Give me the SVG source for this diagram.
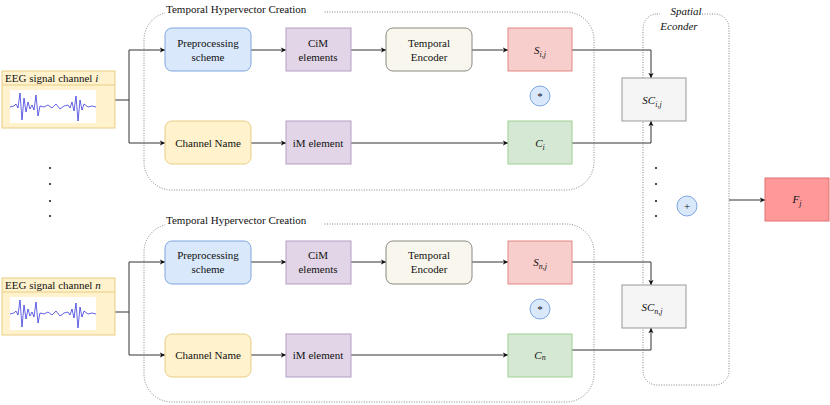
<svg xmlns="http://www.w3.org/2000/svg" width="830" height="405" viewBox="0 0 830 405">
<style>
text{font-family:"Liberation Serif",serif;font-size:11px;fill:#111;text-anchor:middle}
.lab{text-anchor:start}
.it{font-style:italic}
.pnl{fill:none;stroke:#666;stroke-dasharray:1 1.5;stroke-width:0.8}
.pre{fill:#dae8fc;stroke:#7ea6e0}
.cim{fill:#e1d5e7;stroke:#b49fc4}
.enc{fill:#f9f7ed;stroke:#8a8a80}
.s{fill:#f8cecc;stroke:#e08885}
.c{fill:#d5e8d4;stroke:#9fcf94}
.nm{fill:#fff2cc;stroke:#e8cd84}
.sc{fill:#f5f5f5;stroke:#999}
.op{fill:#dae8fc;stroke:#7ea6e0}
.ln{fill:none;stroke:#333;stroke-width:1;marker-end:url(#a)}
.wv{fill:none;stroke:#2323d8;stroke-width:0.7}
</style>
<defs>
<marker id="a" viewBox="0 0 8 8" refX="7" refY="4" markerWidth="6" markerHeight="6" orient="auto"><path d="M0,0.5L7,4L0,7.5L2,4z" fill="#111"/></marker>
<g id="wave"><rect width="86" height="33" fill="#fff"/><path class="wv" d="M0,17 L4,16 6,14 8,18 10,3 12,30 14,8 16,22 18,12 20,19 22,15 24,20 26,5 28,26 30,16 34,17 38,15 42,18 46,14 50,19 54,16 58,15 60,18 62,12 64,21 66,6 68,31 70,10 72,20 74,14 78,17 82,16 86,17"/></g>
</defs>
<g id="connectors">
<path class="ln" d="M115,100H129V50H165"/><path class="ln" d="M129,100V143H165"/>
<path class="ln" d="M251,50H286"/><path class="ln" d="M351,50H386"/><path class="ln" d="M472,50H508"/>
<path class="ln" d="M251,143H286"/><path class="ln" d="M351,143H508"/>
<path class="ln" d="M572,50H651V78"/><path class="ln" d="M572,143H651V121"/>
<path class="ln" d="M115,312H129V262H165"/><path class="ln" d="M129,312V355H165"/>
<path class="ln" d="M251,262H286"/><path class="ln" d="M351,262H386"/><path class="ln" d="M472,262H508"/>
<path class="ln" d="M251,355H286"/><path class="ln" d="M351,355H508"/>
<path class="ln" d="M572,262H651V285"/><path class="ln" d="M572,350H651V328"/>
<path class="ln" d="M729,200H765"/>
</g>
<g id="panel1"><rect class="pnl" x="144" y="12" width="450" height="178" rx="28"/><rect x="165" y="4" width="158" height="14" fill="#fff"/><text class="lab" x="166" y="13">Temporal Hypervector Creation</text></g>
<g id="panel2"><rect class="pnl" x="144" y="224" width="450" height="178" rx="28"/><rect x="165" y="214" width="158" height="14" fill="#fff"/><text class="lab" x="166" y="224">Temporal Hypervector Creation</text></g>
<g id="spatial"><rect class="pnl" x="643" y="14" width="86" height="371" rx="14"/><rect x="660" y="6" width="40" height="14" fill="#fff"/><text class="it" x="686" y="15">Spatial</text><text class="it" x="679" y="30">Econder</text></g>
<g id="eeg1"><rect class="nm" x="2" y="71" width="113" height="57"/><line x1="2" y1="85" x2="115" y2="85" stroke="#e8cd84"/><text class="lab" x="5" y="82">EEG signal channel <tspan class="it">i</tspan></text><use href="#wave" x="10" y="90"/></g>
<g id="pre1"><rect class="pre" x="165" y="28" width="86" height="43" rx="7"/><text x="208" y="47">Preprocessing</text><text x="208" y="61">scheme</text></g>
<g id="cim1"><rect class="cim" x="286" y="28" width="65" height="43"/><text x="318" y="47">CiM</text><text x="318" y="61">elements</text></g>
<g id="enc1"><rect class="enc" x="386" y="28" width="86" height="43" rx="7"/><text x="429" y="47">Temporal</text><text x="429" y="61">Encoder</text></g>
<g id="s1"><rect class="s" x="508" y="28" width="64" height="43"/><text class="it" x="540" y="54">S<tspan font-size="8" dy="3">i,j</tspan></text></g>
<g id="m1"><circle class="op" cx="540" cy="96" r="10"/><text x="540" y="100">*</text></g>
<g id="nm1"><rect class="nm" x="165" y="121" width="86" height="43" rx="7"/><text x="208" y="147">Channel Name</text></g>
<g id="im1"><rect class="cim" x="286" y="121" width="65" height="43"/><text x="318" y="147">iM element</text></g>
<g id="c1"><rect class="c" x="508" y="121" width="64" height="43"/><text class="it" x="540" y="147">C<tspan font-size="8" dy="3">i</tspan></text></g>
<g id="sc1"><rect class="sc" x="622" y="78" width="64" height="43"/><text class="it" x="652" y="104" fill="#555">SC<tspan font-size="8" dy="3">i,j</tspan></text></g>
<g id="eeg2"><rect class="nm" x="2" y="278" width="113" height="57"/><line x1="2" y1="292" x2="115" y2="292" stroke="#e8cd84"/><text class="lab" x="5" y="289">EEG signal channel <tspan class="it">n</tspan></text><use href="#wave" x="10" y="297"/></g>
<g id="pre2"><rect class="pre" x="165" y="241" width="86" height="43" rx="7"/><text x="208" y="259">Preprocessing</text><text x="208" y="273">scheme</text></g>
<g id="cim2"><rect class="cim" x="286" y="241" width="65" height="43"/><text x="318" y="259">CiM</text><text x="318" y="273">elements</text></g>
<g id="enc2"><rect class="enc" x="386" y="241" width="86" height="43" rx="7"/><text x="429" y="259">Temporal</text><text x="429" y="273">Encoder</text></g>
<g id="s2"><rect class="s" x="508" y="241" width="64" height="43"/><text class="it" x="540" y="266">S<tspan font-size="8" dy="3">n,j</tspan></text></g>
<g id="m2"><circle class="op" cx="540" cy="309" r="10"/><text x="540" y="313">*</text></g>
<g id="nm2"><rect class="nm" x="165" y="334" width="86" height="43" rx="7"/><text x="208" y="359">Channel Name</text></g>
<g id="im2"><rect class="cim" x="286" y="334" width="65" height="43"/><text x="318" y="359">iM element</text></g>
<g id="c2"><rect class="c" x="508" y="334" width="64" height="43"/><text class="it" x="540" y="359">C<tspan font-size="8" dy="1">n</tspan></text></g>
<g id="sc2"><rect class="sc" x="622" y="285" width="64" height="43"/><text class="it" x="652" y="311" fill="#555">SC<tspan font-size="8" dy="3">n,j</tspan></text></g>
<g id="sum"><circle class="op" cx="687" cy="206" r="10"/><text x="687" y="210">+</text></g>
<g id="f"><rect x="765" y="178" width="64" height="43" fill="#ff9999" stroke="#e07070"/><text class="it" x="797" y="203">F<tspan font-size="8" dy="3">j</tspan></text></g>
<g id="dots" fill="#111"><circle cx="50" cy="168" r="1"/><circle cx="50" cy="184" r="1"/><circle cx="50" cy="201" r="1"/><circle cx="50" cy="216" r="1"/><circle cx="656" cy="168" r="1"/><circle cx="656" cy="184" r="1"/><circle cx="656" cy="201" r="1"/><circle cx="656" cy="216" r="1"/></g>
</svg>
